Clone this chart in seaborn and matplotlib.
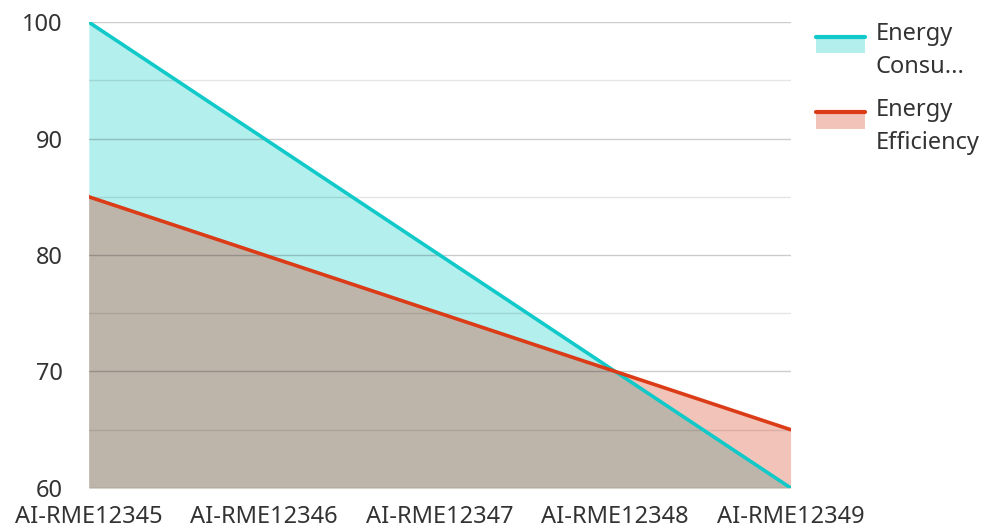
import numpy as np
import pandas as pd
import matplotlib
matplotlib.use('Agg')
import matplotlib.pyplot as plt
import seaborn as sns
from matplotlib.patches import Rectangle
from matplotlib.lines import Line2D

# data
products = ['AI-RME12345', 'AI-RME12346', 'AI-RME12347', 'AI-RME12348', 'AI-RME12349']
consumption = [100, 90, 80, 70, 60]
efficiency = [85, 80, 75, 70, 65]
series_labels = ['Energy\nConsu...', 'Energy\nEfficiency']

line_cols = ['#11c9c9', '#db3b16']
fill_cols = ['#b2efed', '#f2c3b8']
overlap_col = '#bdb5aa'


class AreaHandler:
    # line sitting on top of a light rectangle, like an area-chart legend
    def __init__(self, lc, fc):
        self.lc, self.fc = lc, fc

    def legend_artist(self, legend, orig_handle, fontsize, handlebox):
        x0, y0 = handlebox.xdescent, handlebox.ydescent
        w, h = handlebox.width, handlebox.height
        tr = handlebox.get_transform()
        top = y0 + h * 1.1
        rect = Rectangle((x0, top - h * 0.85), w, h * 0.85, facecolor=self.fc,
                         edgecolor='none', transform=tr)
        ln = Line2D([x0, x0 + w], [top, top], color=self.lc, lw=3, transform=tr)
        handlebox.add_artist(rect)
        handlebox.add_artist(ln)
        return rect


sns.set_theme(style='white')
plt.rcParams['font.family'] = ['Noto Sans', 'DejaVu Sans']

df = pd.DataFrame({'product': products, 'Consumption': consumption, 'Efficiency': efficiency})
df['x'] = np.arange(len(products))
long = df.melt(id_vars=['product', 'x'], value_vars=['Consumption', 'Efficiency'],
               var_name='series', value_name='value')

fig = plt.figure(figsize=(9.87, 5.28), dpi=100)
ax = fig.add_axes([0.090, 0.076, 0.711, 0.882])

base = 60
c = np.array(consumption, dtype=float)
e = np.array(efficiency, dtype=float)
x = df['x'].values
ax.fill_between(x, base, c, color=fill_cols[0], lw=0, zorder=1)
ax.fill_between(x, base, e, color=fill_cols[1], lw=0, zorder=1)
ax.fill_between(x, base, np.minimum(c, e), color=overlap_col, lw=0, zorder=1.5, interpolate=True)

sns.lineplot(data=long, x='x', y='value', hue='series', palette=line_cols,
             linewidth=2.6, ax=ax, legend=False, zorder=3)

ax.set_xlim(0, len(products) - 1)
ax.set_ylim(60, 100)
ax.set_xticks(x)
ax.set_xticklabels(products)
ax.set_yticks([60, 70, 80, 90, 100])
ax.set_yticks([65, 75, 85, 95], minor=True)
ax.grid(axis='y', which='major', color='black', alpha=0.2, lw=1, zorder=2)
ax.grid(axis='y', which='minor', color='black', alpha=0.1, lw=1, zorder=2)
ax.grid(axis='x', visible=False)
ax.set_axisbelow(False)
for s in ax.spines.values():
    s.set_visible(False)
ax.tick_params(axis='both', length=0, labelsize=17, colors='#333333')
ax.tick_params(axis='y', pad=19)
ax.tick_params(axis='x', pad=12)
ax.set_xlabel('')
ax.set_ylabel('')

handles = [Rectangle((0, 0), 1, 1) for _ in series_labels]
hmap = {h: AreaHandler(lc, fc) for h, lc, fc in zip(handles, line_cols, fill_cols)}
leg = fig.legend(handles, series_labels, handler_map=hmap,
                 loc='upper left', bbox_to_anchor=(0.805, 0.998), frameon=False,
                 fontsize=17, handlelength=2.1, handleheight=0.9, labelspacing=0.8,
                 handletextpad=0.45, labelcolor='#333333')
for t in leg.get_texts():
    t.set_linespacing(1.5)

fig.savefig('out.png', dpi=100)
